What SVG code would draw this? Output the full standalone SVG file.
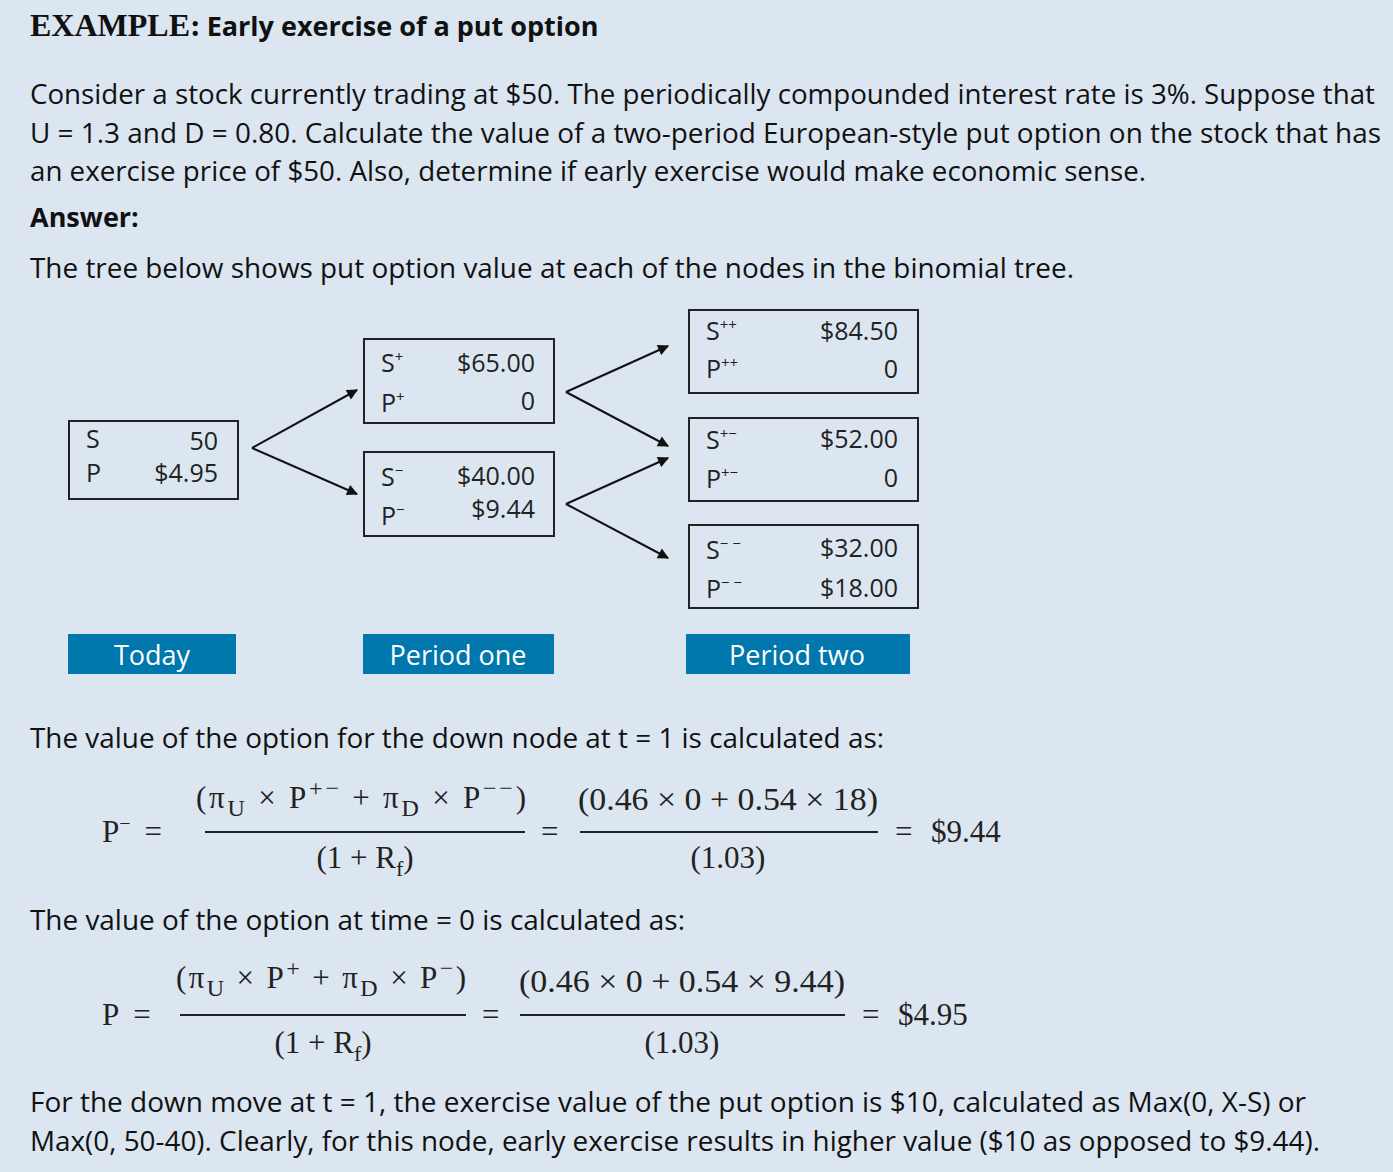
<svg xmlns="http://www.w3.org/2000/svg" width="1393" height="1172" viewBox="0 0 1393 1172">
<defs>
<marker id="ah" viewBox="0 0 10 10" refX="9" refY="5" markerWidth="13" markerHeight="11" orient="auto" markerUnits="userSpaceOnUse"><path d="M0,0 L10,5 L0,10 z" fill="#111"/></marker>
<style>
.b{font-family:"Open Sans","Noto Sans",sans-serif;font-size:27px;fill:#111}
.n{font-family:"Open Sans","Noto Sans",sans-serif;font-size:25px;fill:#222}
.box{fill:none;stroke:#222;stroke-width:2}
.lab{fill:#0077ad}
.lt{font-family:"Open Sans","Noto Sans",sans-serif;font-size:27px;fill:#fff;text-anchor:middle}
.m{font-family:"Liberation Serif",serif;font-size:31px;fill:#222}
.c{stroke:#111;stroke-width:2;fill:none;marker-end:url(#ah)}
.fl{stroke:#222;stroke-width:2}
</style>
</defs>
<rect width="1393" height="1172" fill="#dce6f1"/>
<text x="30" y="36"><tspan style="font-family:'Liberation Serif',serif;font-weight:bold;font-size:32px" fill="#111">EXAMPLE:</tspan><tspan class="b" dx="6" font-weight="bold" font-size="27">Early exercise of a put option</tspan></text>
<text class="b" x="30" y="104" textLength="1345" lengthAdjust="spacingAndGlyphs">Consider a stock currently trading at $50. The periodically compounded interest rate is 3%. Suppose that</text>
<text class="b" x="30" y="143" textLength="1351" lengthAdjust="spacingAndGlyphs">U = 1.3 and D = 0.80. Calculate the value of a two-period European-style put option on the stock that has</text>
<text class="b" x="30" y="181" textLength="1116" lengthAdjust="spacingAndGlyphs">an exercise price of $50. Also, determine if early exercise would make economic sense.</text>
<text class="b" x="30" y="227" font-weight="bold">Answer:</text>
<text class="b" x="30" y="278" textLength="1044" lengthAdjust="spacingAndGlyphs">The tree below shows put option value at each of the nodes in the binomial tree.</text>

<g id="connectors">
<path class="c" d="M252,448 L357,390"/>
<path class="c" d="M252,448 L357,494"/>
<path class="c" d="M566,392 L668,346"/>
<path class="c" d="M566,392 L668,446"/>
<path class="c" d="M566,504 L668,458"/>
<path class="c" d="M566,504 L668,558"/>
</g>
<g id="today"><rect class="box" x="69" y="421" width="169" height="78"/>
<text class="n" x="86" y="448">S</text><text class="n" x="218" y="450" text-anchor="end">50</text>
<text class="n" x="86" y="482">P</text><text class="n" x="218" y="482" text-anchor="end">$4.95</text></g>
<g id="up"><rect class="box" x="364" y="339" width="190" height="84"/>
<text class="n" x="381" y="372">S<tspan font-size="15" dy="-10">+</tspan></text><text class="n" x="535" y="372" text-anchor="end">$65.00</text>
<text class="n" x="381" y="412">P<tspan font-size="15" dy="-10">+</tspan></text><text class="n" x="535" y="410" text-anchor="end">0</text></g>
<g id="down"><rect class="box" x="364" y="452" width="190" height="84"/>
<text class="n" x="381" y="486">S<tspan font-size="15" dy="-10">−</tspan></text><text class="n" x="535" y="485" text-anchor="end">$40.00</text>
<text class="n" x="381" y="525">P<tspan font-size="15" dy="-10">−</tspan></text><text class="n" x="535" y="518" text-anchor="end">$9.44</text></g>
<g id="upup"><rect class="box" x="689" y="310" width="229" height="83"/>
<text class="n" x="706" y="340">S<tspan font-size="15" dy="-10">++</tspan></text><text class="n" x="898" y="340" text-anchor="end">$84.50</text>
<text class="n" x="706" y="378">P<tspan font-size="15" dy="-10">++</tspan></text><text class="n" x="898" y="378" text-anchor="end">0</text></g>
<g id="updown"><rect class="box" x="689" y="418" width="229" height="83"/>
<text class="n" x="706" y="449">S<tspan font-size="15" dy="-10">+−</tspan></text><text class="n" x="898" y="448" text-anchor="end">$52.00</text>
<text class="n" x="706" y="488">P<tspan font-size="15" dy="-10">+−</tspan></text><text class="n" x="898" y="487" text-anchor="end">0</text></g>
<g id="downdown"><rect class="box" x="689" y="525" width="229" height="83"/>
<text class="n" x="706" y="559">S<tspan font-size="15" dy="-10">− −</tspan></text><text class="n" x="898" y="557" text-anchor="end">$32.00</text>
<text class="n" x="706" y="598">P<tspan font-size="15" dy="-10">− −</tspan></text><text class="n" x="898" y="597" text-anchor="end">$18.00</text></g>
<g id="labels">
<rect class="lab" x="68" y="634" width="168" height="40"/><text class="lt" x="152" y="665">Today</text>
<rect class="lab" x="363" y="634" width="191" height="40"/><text class="lt" x="458" y="665">Period one</text>
<rect class="lab" x="686" y="634" width="224" height="40"/><text class="lt" x="797" y="665">Period two</text>
</g>

<text class="b" x="30" y="748" textLength="854" lengthAdjust="spacingAndGlyphs">The value of the option for the down node at t = 1 is calculated as:</text>
<g id="formula1">
<text class="m" x="102" y="842">P<tspan font-size="20" dy="-12">−</tspan><tspan dy="12" dx="14">=</tspan></text>
<text class="m" x="196" y="808" textLength="330" lengthAdjust="spacing">(π<tspan font-size="24" dy="8">U</tspan><tspan dy="-8"> × P</tspan><tspan font-size="24" dy="-12">+−</tspan><tspan dy="12"> + π</tspan><tspan font-size="24" dy="8">D</tspan><tspan dy="-8"> × P</tspan><tspan font-size="24" dy="-12">−−</tspan><tspan dy="12">)</tspan></text>
<line class="fl" x1="205" y1="832" x2="525" y2="832"/>
<text class="m" x="365" y="868" text-anchor="middle">(1 + R<tspan font-size="22" dy="8">f</tspan><tspan dy="-8">)</tspan></text>
<text class="m" x="541" y="842">=</text>
<text class="m" x="578" y="810" textLength="300" lengthAdjust="spacingAndGlyphs">(0.46 × 0 + 0.54 × 18)</text>
<line class="fl" x1="580" y1="832" x2="878" y2="832"/>
<text class="m" x="728" y="868" text-anchor="middle">(1.03)</text>
<text class="m" x="895" y="842">=</text><text class="m" x="931" y="842">$9.44</text>
</g>
<text class="b" x="30" y="930" textLength="655" lengthAdjust="spacingAndGlyphs">The value of the option at time = 0 is calculated as:</text>
<g id="formula2">
<text class="m" x="102" y="1025">P<tspan dx="14">=</tspan></text>
<text class="m" x="176" y="988" textLength="290" lengthAdjust="spacing">(π<tspan font-size="24" dy="8">U</tspan><tspan dy="-8"> × P</tspan><tspan font-size="24" dy="-12">+</tspan><tspan dy="12"> + π</tspan><tspan font-size="24" dy="8">D</tspan><tspan dy="-8"> × P</tspan><tspan font-size="24" dy="-12">−</tspan><tspan dy="12">)</tspan></text>
<line class="fl" x1="180" y1="1015" x2="466" y2="1015"/>
<text class="m" x="323" y="1053" text-anchor="middle">(1 + R<tspan font-size="22" dy="8">f</tspan><tspan dy="-8">)</tspan></text>
<text class="m" x="482" y="1025">=</text>
<text class="m" x="519" y="992" textLength="326" lengthAdjust="spacingAndGlyphs">(0.46 × 0 + 0.54 × 9.44)</text>
<line class="fl" x1="520" y1="1015" x2="845" y2="1015"/>
<text class="m" x="682" y="1053" text-anchor="middle">(1.03)</text>
<text class="m" x="862" y="1025">=</text><text class="m" x="898" y="1025">$4.95</text>
</g>
<text class="b" x="30" y="1112" textLength="1276" lengthAdjust="spacingAndGlyphs">For the down move at t = 1, the exercise value of the put option is $10, calculated as Max(0, X-S) or</text>
<text class="b" x="30" y="1151" textLength="1290" lengthAdjust="spacingAndGlyphs">Max(0, 50-40). Clearly, for this node, early exercise results in higher value ($10 as opposed to $9.44).</text>
</svg>
